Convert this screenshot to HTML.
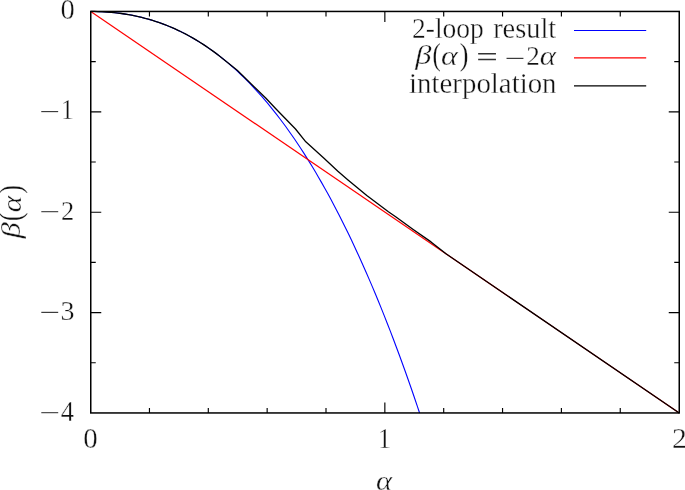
<!DOCTYPE html>
<html><head><meta charset="utf-8"><title>beta function</title>
<style>
html,body{margin:0;padding:0;background:#fff;}
#c{position:relative;width:685px;height:490px;overflow:hidden;background:#fff;font-family:"Liberation Serif",serif;font-size:28px;line-height:1;color:#111;-webkit-text-stroke:0.35px #fff;}
svg{position:absolute;left:0;top:0;display:block;}
.lb{position:absolute;width:0;height:28px;white-space:pre;}
.g{display:inline-block;width:0;height:28px;vertical-align:baseline;transform-origin:0 23.0px;white-space:pre;}
.i{font-style:italic;}
.ps{-webkit-text-stroke:0.2px #fff;}
.ns{-webkit-text-stroke:0;color:#333;}
.rot{transform:rotate(-90deg);transform-origin:0 0;}
</style></head><body>
<div id="c">
<svg width="685" height="490" viewBox="0 0 685 490">
<rect width="685" height="490" fill="#fff"/>
<path d="M90.75,11.45 L93.75,11.47 L96.74,11.52 L99.74,11.62 L102.74,11.75 L105.73,11.92 L108.73,12.14 L111.73,12.39 L114.72,12.69 L117.72,13.03 L120.71,13.41 L123.71,13.84 L126.71,14.31 L129.70,14.83 L132.70,15.40 L135.70,16.02 L138.69,16.68 L141.69,17.40 L144.69,18.16 L147.68,18.98 L150.68,19.85 L153.68,20.77 L156.67,21.74 L159.67,22.77 L162.67,23.86 L165.66,25.00 L168.66,26.20 L171.66,27.45 L174.65,28.77 L177.65,30.14 L180.64,31.58 L183.64,33.07 L186.64,34.63 L189.63,36.25 L192.63,37.94 L195.63,39.69 L198.62,41.50 L201.62,43.39 L204.62,45.33 L207.61,47.35 L210.61,49.43 L213.61,51.59 L216.60,53.81 L219.60,56.11 L222.60,58.48 L225.59,60.92 L228.59,63.43 L231.59,66.02 L234.58,68.68 L237.58,71.42 L240.57,74.24 L243.57,77.14 L246.57,80.11 L249.56,83.16 L252.56,86.29 L255.56,89.51 L258.55,92.80 L261.55,96.18 L264.55,99.64 L267.54,103.19 L270.54,106.82 L273.54,110.54 L276.53,114.34 L279.53,118.24 L282.53,122.22 L285.52,126.29 L288.52,130.45 L291.51,134.70 L294.51,139.04 L297.51,143.48 L300.50,148.00 L303.50,152.63 L306.50,157.35 L309.49,162.16 L312.49,167.07 L315.49,172.08 L318.48,177.19 L321.48,182.39 L324.48,187.70 L327.47,193.10 L330.47,198.61 L333.47,204.22 L336.46,209.94 L339.46,215.76 L342.46,221.68 L345.45,227.71 L348.45,233.85 L351.44,240.09 L354.44,246.44 L357.44,252.90 L360.43,259.47 L363.43,266.15 L366.43,272.95 L369.42,279.85 L372.42,286.87 L375.42,294.01 L378.41,301.25 L381.41,308.62 L384.41,316.10 L387.40,323.69 L390.40,331.41 L393.40,339.25 L396.39,347.20 L399.39,355.28 L402.39,363.47 L405.38,371.79 L408.38,380.23 L411.37,388.80 L414.37,397.49 L417.37,406.31 L419.60,412.95" fill="none" stroke="#0000ff" stroke-width="1.1"/>
<path d="M90.75,11.45 L679.25,412.95" fill="none" stroke="#ff0000" stroke-width="1.2"/>
<path d="M90.75,11.45 L94.15,11.47 L97.54,11.55 L100.94,11.67 L104.33,11.84 L107.73,12.06 L111.12,12.34 L114.52,12.67 L117.91,13.05 L121.31,13.49 L124.70,13.99 L128.10,14.55 L131.49,15.17 L134.89,15.85 L138.28,16.59 L141.68,17.39 L145.07,18.26 L148.47,19.20 L151.86,20.20 L155.26,21.27 L158.65,22.42 L162.05,23.63 L165.44,24.91 L168.84,26.27 L172.23,27.70 L175.63,29.21 L179.03,30.79 L182.42,32.46 L185.82,34.20 L189.21,36.02 L192.61,37.93 L196.00,39.91 L199.40,41.98 L202.79,44.14 L206.19,46.38 L209.58,48.71 L212.98,51.13 L216.37,53.64 L219.77,56.24 L223.16,58.93 L237.20,70.20 L265.70,98.00 L275.80,108.80 L295.50,129.00 L305.80,141.80 L324.00,158.30 L337.60,171.00 L348.00,180.00 L366.80,195.60 L388.40,211.80 L396.00,217.00 L413.20,229.50 L431.00,241.90 L446.00,253.82 L679.25,412.95" fill="none" stroke="#000" stroke-width="1.3" stroke-linejoin="round"/>
<path d="M574,30.45 H646.2" stroke="#0000ff" stroke-width="1.05"/>
<path d="M574,57.9 H646.2" stroke="#ff0000" stroke-width="1.3"/>
<path d="M574,85.85 H646.2" stroke="#000" stroke-width="1.3"/>
<path d="M149.45,412.95 v-5 M149.45,11.45 v5 M208.30,412.95 v-5 M208.30,11.45 v5 M267.15,412.95 v-5 M267.15,11.45 v5 M326.00,412.95 v-5 M326.00,11.45 v5 M384.85,412.95 v-10.5 M384.85,11.45 v10.5 M443.70,412.95 v-5 M443.70,11.45 v5 M502.55,412.95 v-5 M502.55,11.45 v5 M561.40,412.95 v-5 M561.40,11.45 v5 M620.25,412.95 v-5 M620.25,11.45 v5 M90.75,61.64 h5 M679.25,61.64 h-5 M90.75,111.83 h10.5 M679.25,111.83 h-10.5 M90.75,162.01 h5 M679.25,162.01 h-5 M90.75,212.20 h10.5 M679.25,212.20 h-10.5 M90.75,262.39 h5 M679.25,262.39 h-5 M90.75,312.57 h10.5 M679.25,312.57 h-10.5 M90.75,362.76 h5 M679.25,362.76 h-5" fill="none" stroke="#000" stroke-width="1.15"/>
<rect x="90.75" y="11.45" width="588.50" height="401.50" fill="none" stroke="#000" stroke-width="1.5"/>
</svg>
<div class="lb" style="left:60px;top:-4px;"><span class="g" style="transform:translate(0.46px,0.00px) scale(1.0196,1.0268)">0</span></div>
<div class="lb" style="left:39px;top:96px;"><span class="g ns" style="transform:translate(0.49px,0.00px) scale(1.2971,0.7960)">−</span><span class="g" style="transform:translate(21.75px,0.00px) scale(0.9333,1.0387)">1</span></div>
<div class="lb" style="left:39px;top:196px;"><span class="g ns" style="transform:translate(0.49px,0.00px) scale(1.2971,0.7637)">−</span><span class="g" style="transform:translate(21.89px,1.00px) scale(0.9444,1.0087)">2</span></div>
<div class="lb" style="left:39px;top:297px;"><span class="g ns" style="transform:translate(0.49px,0.00px) scale(1.2971,0.8282)">−</span><span class="g" style="transform:translate(21.51px,0.00px) scale(1.0029,1.0047)">3</span></div>
<div class="lb" style="left:39px;top:397px;"><span class="g ns" style="transform:translate(0.49px,0.00px) scale(1.2971,0.7637)">−</span><span class="g" style="transform:translate(21.63px,1.00px) scale(0.9450,1.0635)">4</span></div>
<div class="lb" style="left:83px;top:425px;"><span class="g" style="transform:translate(0.24px,0.00px) scale(1.0365,1.0373)">0</span></div>
<div class="lb" style="left:377px;top:425px;"><span class="g" style="transform:translate(0.80px,0.00px) scale(0.9536,1.0441)">1</span></div>
<div class="lb" style="left:672px;top:425px;"><span class="g" style="transform:translate(0.05px,0.00px) scale(1.0602,1.0357)">2</span></div>
<div class="lb" style="left:411px;top:15px;"><span class="g" style="transform:translate(0.99px,0.00px) scale(0.9819,1.0500)">2-loop</span> <span class="g" style="transform:translate(75.13px,0.00px) scale(1.0149,1.0500)">result</span></div>
<div class="lb" style="left:415px;top:41px;"><span class="g i" style="transform:translate(0.17px,0.00px) scale(1.1633,0.9893)">β</span><span class="g ps" style="transform:translate(17.55px,1.00px) scale(0.8900,1.1344)">(</span><span class="g i" style="transform:translate(26.00px,1.00px) scale(1.1446,0.9560)">α</span><span class="g ps" style="transform:translate(44.81px,1.00px) scale(0.9317,1.1344)">)</span> <span class="g ns" style="transform:translate(54.19px,3.00px) scale(1.3662,1.0218)">=</span> <span class="g ns" style="transform:translate(75.79px,2.00px) scale(1.2971,0.8390)">−</span><span class="g" style="transform:translate(97.26px,1.00px) scale(0.9711,0.9979)">2</span><span class="g i" style="transform:translate(110.72px,1.00px) scale(1.1097,0.9560)">α</span></div>
<div class="lb" style="left:409px;top:70px;"><span class="g" style="transform:translate(0.09px,0.00px) scale(1.0305,1.0300)">interpolation</span></div>
<div class="lb" style="left:376px;top:467px;"><span class="g i" style="transform:translate(0.03px,0.00px) scale(1.1027,0.9930)">α</span></div>
<div class="lb rot" style="left:21.3px;top:238.9px;"><span class="g i" style="transform:translate(0.57px,-24.00px) scale(1.1633,0.9893)">β</span><span class="g ps" style="transform:translate(17.95px,-23.00px) scale(0.8900,1.1344)">(</span><span class="g i" style="transform:translate(26.40px,-23.00px) scale(1.1446,0.9560)">α</span><span class="g ps" style="transform:translate(45.21px,-23.00px) scale(0.9317,1.1344)">)</span></div>
</div>
</body></html>
